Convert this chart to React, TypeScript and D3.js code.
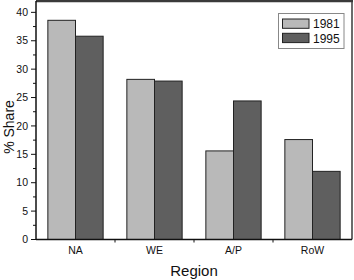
import * as d3 from 'd3';

// Regional share by year
const REGIONS = ['NA', 'WE', 'A/P', 'RoW'];
const YEARS = ['1981', '1995'];
const SHARE_1981 = [38.6, 28.2, 15.6, 17.6];
const SHARE_1995 = [35.8, 27.9, 24.4, 12.0];
const Y_TICKS = [0, 5, 10, 15, 20, 25, 30, 35, 40];

const LIGHT = '#b9b9b9';
const DARK = '#5f5f5f';
const FRAME = '#3a3a3a';
const FONT = 'Liberation Sans, Arial, sans-serif';

const W = 354;
const H = 280;
const left = 36;
const right = 352;
const bottom = 239.5;
const top = 1;

export default function App() {
  const x = d3.scaleBand<string>().domain(REGIONS).range([left, right]).paddingInner(0.3).paddingOuter(0.15);
  const sub = d3.scaleBand<string>().domain(YEARS).range([0, x.bandwidth()]);
  const y = d3.scaleLinear().domain([0, 42]).range([bottom, top]);
  const series = [SHARE_1981, SHARE_1995];
  const fills = [LIGHT, DARK];
  const step = x.step();
  const minor = d3.range(2.5, 42, 5);
  const boundaries = REGIONS.slice(1).map((r) => (x(r) ?? 0) - (step - x.bandwidth()) / 2);

  return (
    <svg width={W} height={H} style={{ position: 'absolute', left: 0, top: 0, background: '#fff' }} fontFamily={FONT}>
      {/* bars */}
      {REGIONS.map((r, i) => (
        <g key={r} transform={`translate(${x(r)},0)`}>
          {YEARS.map((yr, j) => (
            <rect
              key={yr}
              x={sub(yr)}
              y={y(series[j][i])}
              width={sub.bandwidth()}
              height={bottom - y(series[j][i])}
              fill={fills[j]}
              stroke="#222"
              strokeWidth={1}
            />
          ))}
        </g>
      ))}

      {/* frame */}
      <line x1={left} x2={right + 1} y1={top} y2={top} stroke={FRAME} strokeWidth={2.5} />
      <line x1={right} x2={right} y1={top} y2={bottom} stroke={FRAME} strokeWidth={1.5} />
      <line x1={left} x2={left} y1={top} y2={bottom} stroke="#111" strokeWidth={1.5} />
      <line x1={left} x2={right} y1={bottom} y2={bottom} stroke="#111" strokeWidth={1.5} />

      {/* y ticks */}
      {Y_TICKS.map((t) => (
        <g key={t}>
          <line x1={left - 5} x2={left} y1={y(t)} y2={y(t)} stroke="#111" strokeWidth={1} />
          <text x={left - 8} y={y(t)} dy="0.35em" textAnchor="end" fontSize={10.5} fill="#111">
            {t}
          </text>
        </g>
      ))}
      {minor.map((t) => (
        <line key={t} x1={left - 3} x2={left} y1={y(t)} y2={y(t)} stroke="#111" strokeWidth={1} />
      ))}

      {/* x ticks */}
      {boundaries.map((b, i) => (
        <line key={i} x1={b} x2={b} y1={bottom} y2={bottom + 3} stroke="#111" strokeWidth={1} />
      ))}
      {REGIONS.map((r) => (
        <text key={r} x={(x(r) ?? 0) + x.bandwidth() / 2} y={bottom + 14} textAnchor="middle" fontSize={10.5} fill="#111">
          {r}
        </text>
      ))}

      {/* axis titles */}
      <text x={194} y={276} textAnchor="middle" fontSize={15} fill="#111">
        Region
      </text>
      <text transform={`translate(14,127) rotate(-90)`} textAnchor="middle" fontSize={14} fill="#111">
        % Share
      </text>

      {/* legend */}
      <rect x={278.5} y={13.5} width={65.5} height={35} fill="#fff" stroke="#888" strokeWidth={1} />
      {YEARS.map((yr, j) => (
        <g key={yr}>
          <rect x={282.5} y={19 + j * 14.3} width={26.5} height={9.3} fill={fills[j]} stroke="#222" strokeWidth={1} />
          <text x={313} y={28.3 + j * 14.3} fontSize={12} fill="#111">
            {yr}
          </text>
        </g>
      ))}
    </svg>
  );
}
